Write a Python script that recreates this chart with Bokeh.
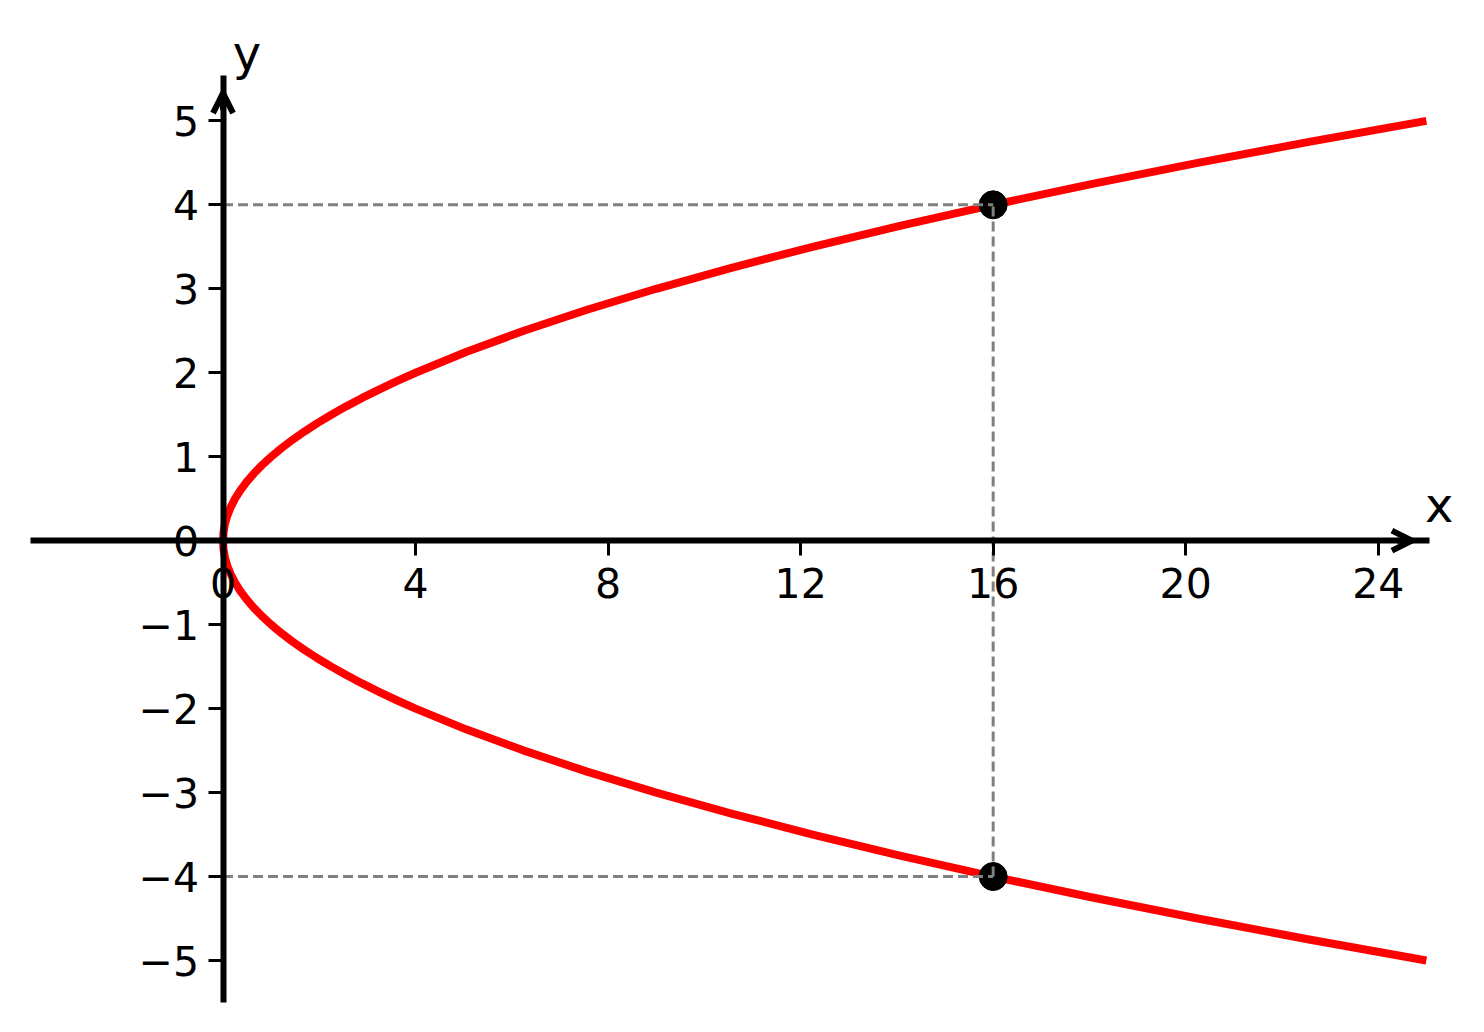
from bokeh.plotting import figure
from bokeh.models import LinearAxis, FixedTicker, Label, Arrow, OpenHead, Range1d
from bokeh.embed import file_html
from bokeh.resources import INLINE

# ---- data (parabola x = y^2) ----
curve_y = [-5.0, -4.75, -4.5, -4.25, -4.0, -3.75, -3.5, -3.25, -3.0, -2.75, -2.5, -2.25,
           -2.0, -1.9, -1.8, -1.7, -1.6, -1.5, -1.4, -1.3, -1.2, -1.1,
           -1.0, -0.9, -0.8, -0.7, -0.6, -0.5, -0.4, -0.3, -0.2, -0.1, 0.0,
           0.1, 0.2, 0.3, 0.4, 0.5, 0.6, 0.7, 0.8, 0.9, 1.0,
           1.1, 1.2, 1.3, 1.4, 1.5, 1.6, 1.7, 1.8, 1.9, 2.0,
           2.25, 2.5, 2.75, 3.0, 3.25, 3.5, 3.75, 4.0, 4.25, 4.5, 4.75, 5.0]
curve_x = [25.0, 22.5625, 20.25, 18.0625, 16.0, 14.0625, 12.25, 10.5625, 9.0, 7.5625, 6.25, 5.0625,
           4.0, 3.61, 3.24, 2.89, 2.56, 2.25, 1.96, 1.69, 1.44, 1.21,
           1.0, 0.81, 0.64, 0.49, 0.36, 0.25, 0.16, 0.09, 0.04, 0.01, 0.0,
           0.01, 0.04, 0.09, 0.16, 0.25, 0.36, 0.49, 0.64, 0.81, 1.0,
           1.21, 1.44, 1.69, 1.96, 2.25, 2.56, 2.89, 3.24, 3.61, 4.0,
           5.0625, 6.25, 7.5625, 9.0, 10.5625, 12.25, 14.0625, 16.0, 18.0625, 20.25, 22.5625, 25.0]
point_x = [16, 16]
point_y = [4, -4]
x_ticks = [0, 4, 8, 12, 16, 20, 24]
y_ticks = [-5, -4, -3, -2, -1, 0, 1, 2, 3, 4, 5]
x_axis_bounds = (-4, 25)
y_axis_bounds = (-5.5, 5.5)
x_view = (-4, 26)
y_view = (-5.5, 6.1)

FONT = "DejaVu Sans"
TICK_SIZE = "41px"

p = figure(
    frame_width=1444, frame_height=974,
    min_border_left=30, min_border_right=4, min_border_top=28, min_border_bottom=20,
    x_range=Range1d(*x_view), y_range=Range1d(*y_view),
    x_axis_location=None, y_axis_location=None,
    output_backend="svg", toolbar_location=None,
)
p.outline_line_color = None
p.xgrid.visible = False
p.ygrid.visible = False
p.background_fill_color = "white"
p.border_fill_color = "white"

def minus(v):
    return str(v).replace("-", "\u2212")

def style_axis(ax, ticks, bounds):
    ax.ticker = FixedTicker(ticks=ticks)
    ax.bounds = bounds
    ax.major_label_overrides = {t: minus(t) for t in ticks}
    ax.axis_line_width = 6
    ax.axis_line_color = "black"
    ax.axis_line_cap = "square"
    ax.major_tick_line_width = 3
    ax.major_tick_line_color = "black"
    ax.major_tick_out = 15
    ax.major_tick_in = 0
    ax.minor_tick_out = 0
    ax.minor_tick_in = 0
    ax.major_label_text_font = FONT
    ax.major_label_text_font_size = TICK_SIZE
    ax.major_label_text_color = "black"

xaxis = LinearAxis(fixed_location=0)
style_axis(xaxis, x_ticks, x_axis_bounds)
xaxis.major_label_standoff = 12
p.add_layout(xaxis, "below")

yaxis = LinearAxis(fixed_location=0)
style_axis(yaxis, y_ticks, y_axis_bounds)
yaxis.major_label_standoff = 9
p.add_layout(yaxis, "left")

# curve
p.line(curve_x, curve_y, line_color="red", line_width=8, line_join="round", line_cap="butt")

# points
p.scatter(point_x, point_y, size=28, color="black")

# dashed guide lines (horizontal to y axis, vertical between the points)
p.segment(x0=[0] * len(point_x), y0=point_y, x1=point_x, y1=point_y,
          line_color="#808080", line_width=3, line_dash="10 5")
p.segment(x0=[point_x[0]], y0=[min(point_y)], x1=[point_x[1]], y1=[max(point_y)],
          line_color="#808080", line_width=3, line_dash="10 5")

# axis arrows
x_arrow_tip = 24.7
y_arrow_tip = 5.33
p.add_layout(Arrow(end=OpenHead(size=20, line_width=6, line_color="black", line_join="round"),
                   x_start=x_arrow_tip - 0.3, y_start=0, x_end=x_arrow_tip, y_end=0,
                   line_width=6, line_color="black"))
p.add_layout(Arrow(end=OpenHead(size=20, line_width=6, line_color="black", line_join="round"),
                   x_start=0, y_start=y_arrow_tip - 0.2, x_end=0, y_end=y_arrow_tip,
                   line_width=6, line_color="black"))

# axis names
p.add_layout(Label(x=24.97, y=0.43, text="x", text_font=FONT, text_font_size="48px",
                   text_color="black", text_baseline="alphabetic", text_align="left"))
p.add_layout(Label(x=0.2, y=5.81, text="y", text_font=FONT, text_font_size="48px",
                   text_color="black", text_baseline="alphabetic", text_align="left"))

open("out.html", "w").write(file_html(p, INLINE))
